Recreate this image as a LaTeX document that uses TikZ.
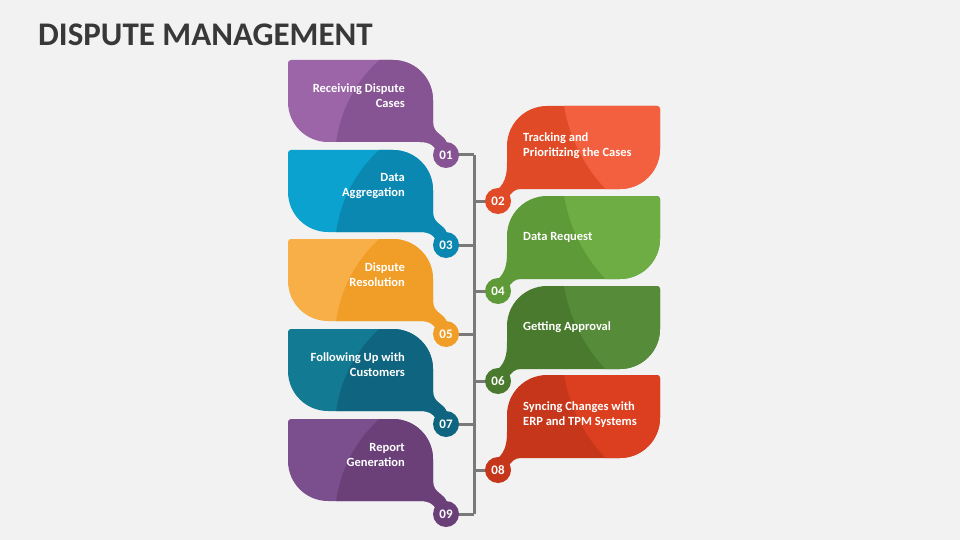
\documentclass[tikz,border=0pt]{standalone}
\usepackage{fontspec}
\setmainfont{Carlito}
\begin{document}
\begin{tikzpicture}[x=1pt,y=-1pt,
  numc/.style={circle,minimum size=26pt,inner sep=0pt,font=\bfseries\fontsize{13}{13}\selectfont,text=white},
  lbl/.style={font=\bfseries\fontsize{12.5}{15}\selectfont,text=white,inner sep=0pt},
  conn/.style={draw=gray!95!black,line width=3pt}]
\definecolor{bg}{HTML}{F2F2F2}
\fill[bg] (0,0) rectangle (960,540);
\useasboundingbox (0,0) rectangle (960,540);
\node[anchor=west,font=\bfseries\fontsize{33}{33}\selectfont,text=black!78,inner sep=0pt] (title) at (38,35) {DISPUTE MANAGEMENT};
% spine
\coordinate (stop) at (474,155);
\coordinate (sbot) at (474,514);
\draw[conn] (stop) -- (sbot);
% left shapes
\foreach \n/\T/\cl/\cd/\txt in {
 1/60/9B65A8/865492/{Receiving Dispute\\Cases},
 3/150/0BA2CF/0A88B2/{Data\\Aggregation},
 5/239/F8AF47/F09E27/{Dispute\\Resolution},
 7/329/137A94/0F6580/{Following Up with\\Customers},
 9/419/7B4F8E/6B4079/{Report\\Generation}}{
 \definecolor{cl}{HTML}{\cl}\definecolor{cd}{HTML}{\cd}
 \coordinate (j\n) at (474,\T+95);
 \draw[conn] (446,\T+95) -- (j\n);
 \begin{scope}
 \path[clip] (288,\T+40) [rounded corners=3pt] -- (288,\T) [rounded corners=40pt] -- (433,\T) [sharp corners] -- (433,\T+62) .. controls (433,\T+75) and (445,\T+74) .. (447,\T+84) -- (436,\T+90) .. controls (433,\T+84) and (428,\T+82) .. (420,\T+82) [rounded corners=40pt] -- (288,\T+82) [sharp corners] -- cycle;
 \fill[cl] (280,\T-5) rectangle (460,\T+100);
 \fill[cd] (470,\T+100) circle (135);
 \end{scope}
 \node[numc,fill=cd] (c\n) at (446,\T+95) {0\n};
 \node[lbl,align=right,anchor=east] (t\n) at (405,\T+36) {\txt};
}
% right shapes
\foreach \n/\T/\cl/\cd/\txt in {
 2/106/F2603F/E04A26/{Tracking and\\Prioritizing the Cases},
 4/196/6DAD43/5E9A38/{Data Request},
 6/286/568B3A/4A7A2E/{Getting Approval},
 8/375/DB3F1F/C6361A/{Syncing Changes with\\ERP and TPM Systems}}{
 \definecolor{cl}{HTML}{\cl}\definecolor{cd}{HTML}{\cd}
 \coordinate (j\n) at (474,\T+95);
 \draw[conn] (j\n) -- (498,\T+95);
 \begin{scope}
 \path[clip] (507,\T+55) [rounded corners=40pt] -- (507,\T) [rounded corners=3pt] -- (660,\T) [rounded corners=40pt] -- (660,\T+83) [sharp corners] -- (521,\T+83) .. controls (514,\T+83) and (512,\T+87) .. (509,\T+90) -- (497,\T+84) .. controls (507,\T+76) and (507,\T+64) .. (507,\T+55) -- cycle;
 \fill[cd] (490,\T-5) rectangle (670,\T+100);
 \fill[cl] (720,\T-26) circle (158);
 \end{scope}
 \node[numc,fill=cd] (c\n) at (498,\T+95) {0\n};
 \ifnum\n=4
 \node[lbl,align=left,anchor=west] (t\n) at (523,\T+41) {\txt};
 \else\ifnum\n=6
 \node[lbl,align=left,anchor=west] (t\n) at (523,\T+41) {\txt};
 \else
 \node[lbl,align=left,anchor=west] (t\n) at (523,\T+40) {\txt};
 \fi\fi
}
\end{tikzpicture}
\end{document}
